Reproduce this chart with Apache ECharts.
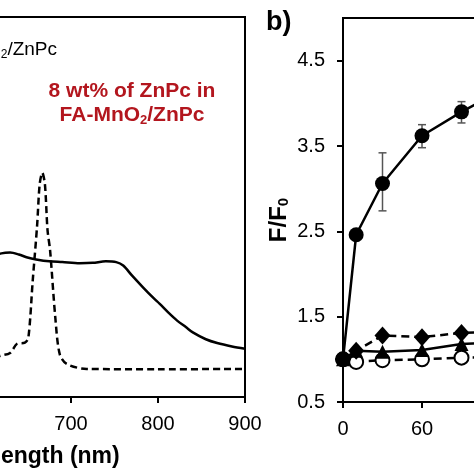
<!DOCTYPE html>
<html>
<head>
<meta charset="utf-8">
<script src="https://cdn.jsdelivr.net/npm/echarts@6/dist/echarts.min.js"></script>
<style>
html, body { margin: 0; padding: 0; background: #fff; overflow: hidden; width: 474px; height: 474px; }
#chart { position: absolute; left: -190px; top: 0; width: 770px; height: 474px; }
</style>
</head>
<body>
<div id="chart"></div>
<script>
// the figure is a crop: both panels run past the window, so the canvas is wider and shifted left
var OFF = 190
var chart = echarts.init(document.getElementById('chart'))
var font = 'Arial, "Liberation Sans", sans-serif'

// panel a) absorbance spectra
var waveA = [600, 610, 620, 630, 640, 650, 660, 675, 690, 710, 725, 740, 752, 760, 770, 783, 795, 802, 812, 822, 832, 840, 855, 868, 885, 900]
var absA = [0.365, 0.37, 0.378, 0.38, 0.375, 0.367, 0.362, 0.357, 0.355, 0.352, 0.353, 0.357, 0.355, 0.346, 0.32, 0.288, 0.26, 0.245, 0.222, 0.201, 0.184, 0.17, 0.152, 0.142, 0.133, 0.127]
var waveB = [600, 610, 618, 630, 638, 647, 651, 656, 661, 664, 667, 670, 673, 676, 682, 687, 695, 718, 800, 900]
var absB = [0.09, 0.1, 0.108, 0.116, 0.14, 0.143, 0.156, 0.306, 0.45, 0.56, 0.59, 0.56, 0.44, 0.385, 0.208, 0.113, 0.087, 0.074, 0.073, 0.074]

// panel b) F/F0 vs time
var times = [0, 10, 30, 60, 90, 120]
var circ = [1.0, 2.46, 3.06, 3.62, 3.9, 4.15]
var circLow = [1.0, 2.46, 2.74, 3.48, 3.77, 4.0]
var circHigh = [1.0, 2.46, 3.42, 3.75, 4.02, 4.3]
var diam = [1.0, 1.1, 1.28, 1.26, 1.31, 1.32]
var tri = [1.0, 1.1, 1.09, 1.11, 1.18, 1.2]
var openC = [1.0, 0.97, 0.99, 1.0, 1.02, 1.03]

function pairs(xs, ys) {
    return xs.map(function (x, i) { return [x, ys[i]] })
}

var axisLine = { show: true, lineStyle: { color: '#000', width: 2 } }
var axisTick = { show: true, length: 6, lineStyle: { color: '#000', width: 2 } }
var label = { color: '#000', fontSize: 20, fontFamily: font }

var option = {
    backgroundColor: '#fff',
    animation: false,
    grid: [
        { left: 0, right: 770 - (245 + OFF), top: 17, bottom: 77, outerBoundsMode: 'none', containLabel: false,
          show: true, borderColor: '#000', borderWidth: 2 },
        { left: 343 + OFF, right: 0, top: 18, bottom: 72, outerBoundsMode: 'none', containLabel: false,
          show: true, borderColor: '#000', borderWidth: 2 }
    ],
    xAxis: [{
        gridIndex: 0, type: 'value', min: 400, max: 900, interval: 100,
        axisLine: axisLine, axisTick: axisTick, splitLine: { show: false },
        axisLabel: Object.assign({ margin: 17 }, label),
        name: 'Wavelength (nm)', nameLocation: 'middle', nameGap: 48,
        nameTextStyle: { color: '#000', fontSize: 23, fontWeight: 'bold', fontFamily: font }
    }, {
        gridIndex: 1, type: 'value', min: 0, max: 180, interval: 60,
        axisLine: axisLine, axisTick: axisTick, splitLine: { show: false },
        axisLabel: Object.assign({ margin: 17 }, label)
    }],
    yAxis: [{
        gridIndex: 0, type: 'value', min: 0, max: 1,
        axisLine: axisLine, axisTick: { show: false }, splitLine: { show: false },
        axisLabel: { show: false }
    }, {
        gridIndex: 1, type: 'value', min: 0.5, max: 5, interval: 1,
        axisLine: axisLine, axisTick: axisTick, splitLine: { show: false },
        axisLabel: Object.assign({ margin: 18, showMaxLabel: false }, label)
    }],
    graphic: [
        {
            type: 'text', x: 57 + OFF, y: 50,
            style: {
                text: 'FA-MnO{s|2}/ZnPc', align: 'right', verticalAlign: 'middle',
                fill: '#000', fontSize: 19, fontFamily: font,
                rich: { s: { fontSize: 12, padding: [10, 0, 0, 0], fill: '#000', fontFamily: font } }
            }
        },
        {
            type: 'text', x: 132 + OFF, y: 91,
            style: {
                text: '8 wt% of ZnPc in', align: 'center', verticalAlign: 'middle',
                fill: '#b3161e', fontSize: 21, fontWeight: 'bold', fontFamily: font
            }
        },
        {
            type: 'text', x: 132 + OFF, y: 115,
            style: {
                text: 'FA-MnO{s|2}/ZnPc', align: 'center', verticalAlign: 'middle',
                fill: '#b3161e', fontSize: 21, fontWeight: 'bold', fontFamily: font,
                rich: { s: { fontSize: 13, fontWeight: 'bold', padding: [10, 0, 0, 0], fill: '#b3161e', fontFamily: font } }
            }
        },
        {
            type: 'text', x: 266 + OFF, y: 23,
            style: {
                text: 'b)', verticalAlign: 'middle',
                fill: '#000', fontSize: 27, fontWeight: 'bold', fontFamily: font
            }
        },
        {
            type: 'text', x: 279 + OFF, y: 220, rotation: Math.PI / 2,
            style: {
                text: 'F/F{s|0}', align: 'center', verticalAlign: 'middle',
                fill: '#000', fontSize: 24, fontWeight: 'bold', fontFamily: font,
                rich: { s: { fontSize: 15, fontWeight: 'bold', padding: [10, 0, 0, 0], fill: '#000', fontFamily: font } }
            }
        }
    ],
    series: [
        {
            type: 'line', xAxisIndex: 0, yAxisIndex: 0, data: pairs(waveA, absA),
            showSymbol: false, smooth: 0.3,
            lineStyle: { color: '#000', width: 2.5 }
        },
        {
            type: 'line', xAxisIndex: 0, yAxisIndex: 0, data: pairs(waveB, absB),
            showSymbol: false, smooth: 0.3,
            lineStyle: { color: '#000', width: 2.5, type: [7, 4] }
        },
        {
            type: 'line', xAxisIndex: 1, yAxisIndex: 1, data: pairs(times, openC),
            symbol: 'circle', symbolSize: 14,
            itemStyle: { color: '#fff', borderColor: '#000', borderWidth: 2 },
            lineStyle: { color: '#000', width: 2.5, type: [8, 5] }
        },
        {
            type: 'line', xAxisIndex: 1, yAxisIndex: 1, data: pairs(times, tri),
            symbol: 'triangle', symbolSize: 14,
            itemStyle: { color: '#000' },
            lineStyle: { color: '#000', width: 2.5 }
        },
        {
            type: 'line', xAxisIndex: 1, yAxisIndex: 1, data: pairs(times, diam),
            symbol: 'diamond', symbolSize: [16, 18],
            itemStyle: { color: '#000' },
            lineStyle: { color: '#000', width: 2.5, type: [8, 5] }
        },
        {
            type: 'custom', xAxisIndex: 1, yAxisIndex: 1,
            data: times.map(function (t, i) { return [t, circLow[i], circHigh[i]] }),
            renderItem: function (params, api) {
                var lo = api.coord([api.value(0), api.value(1)])
                var hi = api.coord([api.value(0), api.value(2)])
                var w = 4
                var st = { stroke: '#555', lineWidth: 1.5 }
                return {
                    type: 'group',
                    children: [
                        { type: 'line', shape: { x1: lo[0], y1: lo[1], x2: hi[0], y2: hi[1] }, style: st },
                        { type: 'line', shape: { x1: lo[0] - w, y1: lo[1], x2: lo[0] + w, y2: lo[1] }, style: st },
                        { type: 'line', shape: { x1: hi[0] - w, y1: hi[1], x2: hi[0] + w, y2: hi[1] }, style: st }
                    ]
                }
            },
            z: 3
        },
        {
            type: 'line', xAxisIndex: 1, yAxisIndex: 1, data: pairs(times, circ),
            symbol: 'circle', symbolSize: 15,
            itemStyle: { color: '#000' },
            lineStyle: { color: '#000', width: 2.5 },
            z: 4
        }
    ]
}
chart.setOption(option)
</script>
</body>
</html>
